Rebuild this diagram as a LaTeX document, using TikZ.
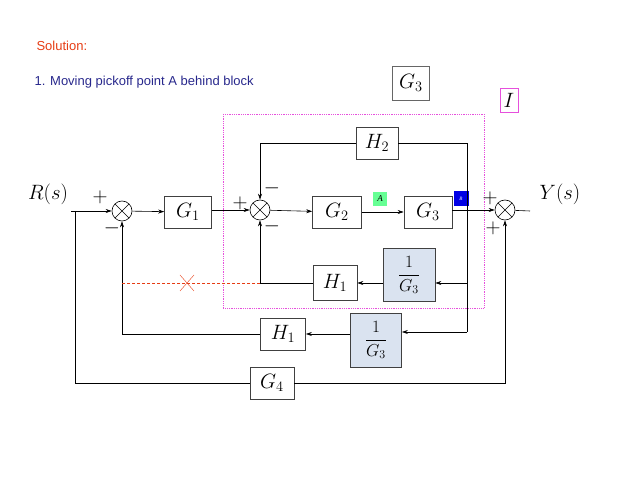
\documentclass[tikz,border=0pt]{standalone}
\usepackage{fontspec}
\usepackage{amsmath}
\setmainfont{Liberation Serif}
\newfontfamily\sans{Liberation Sans}
\usetikzlibrary{arrows.meta}
\definecolor{dashpink}{RGB}{230,80,220}
\definecolor{solred}{RGB}{230,60,20}
\definecolor{navy}{RGB}{40,40,140}
\definecolor{boxblue}{RGB}{218,227,240}
\newcommand{\blkfont}{\fontsize{22}{24}\selectfont}
\begin{document}
\begin{tikzpicture}[x=1pt,y=-1pt,
  blk/.style={draw=black!75,semithick,minimum height=32pt,inner sep=1pt,font=\blkfont},
  sum/.style={draw,semithick,circle,minimum size=20pt,inner sep=0pt,path picture={
    \draw (path picture bounding box.north west)--(path picture bounding box.south east)
          (path picture bounding box.north east)--(path picture bounding box.south west);}},
  sig/.style={->,>={Stealth[length=6pt,width=4pt]},semithick},
  ln/.style={semithick},
  sg/.style={font=\fontsize{20}{22}\selectfont}]
\useasboundingbox (0,0) rectangle (638,478);
% texts
\node[anchor=west,font=\sans\fontsize{13}{15}\selectfont,text=solred] (sol) at (33,46) {Solution:};
\node[anchor=west,font=\sans\fontsize{13}{15}\selectfont,text=navy] (mov) at (31,82) {1. Moving pickoff point A behind block};
\node[draw=black!60,minimum width=37pt,minimum height=34pt,font=\blkfont] (gt) at (411,83) {$G_3$};
\node[draw=dashpink,minimum width=18pt,minimum height=24pt,inner sep=0pt,font=\blkfont] (ii) at (509,100) {$I$};
\draw[dashpink,densely dotted,thick] (223,114) rectangle (484,308);
% main path
\node[font=\blkfont] (R) at (48,194) {$R(s)$};
\node[font=\blkfont] (Y) at (560,194) {$Y(s)$};
\node[sum] (s1) at (122,211) {};
\node[sum] (s2) at (260,210) {};
\node[sum] (s3) at (505,210) {};
\node[blk,minimum width=47pt] (g1) at (188,212) {$G_1$};
\node[blk,minimum width=49pt] (g2) at (337,212) {$G_2$};
\node[blk,minimum width=48pt] (g3) at (428,212) {$G_3$};
\node[blk,minimum width=42pt] (h2) at (377,143) {$H_2$};
\node[blk,minimum width=44pt,minimum height=35pt] (h1a) at (335,283) {$H_1$};
\node[blk,fill=boxblue,minimum width=52pt,minimum height=53pt,font=\fontsize{17}{19}\selectfont] (ga) at (409,275) {$\dfrac{1}{G_3}$};
\node[blk,fill=boxblue,minimum width=51pt,minimum height=54pt,font=\fontsize{17}{19}\selectfont] (gb) at (376,340) {$\dfrac{1}{G_3}$};
\node[blk,minimum width=45pt] (h1b) at (283,334) {$H_1$};
\node[blk,minimum width=44pt] (g4) at (272,383) {$G_4$};
\node[fill=green!70!cyan!60,minimum size=14pt,inner sep=0pt,font=\small\itshape] (A) at (380,199) {A};
\node[fill=blue!90!black,minimum size=15pt,inner sep=0pt,font=\tiny\itshape,text=white] (B) at (461,199) {B};
\coordinate (rt) at (75,211);
\coordinate (p) at (467,212);
\coordinate (out) at (530,211);
\draw[ln] (R.east |- rt) -- (rt);
\draw[sig] (rt) -- (s1);
\draw[sig] (s1) -- (g1);
\draw[sig] (g1.east |- s2) -- (s2);
\draw[sig] (s2) -- (g2);
\draw[sig] (g2.east) -- (g3.west);
\draw[sig] (g3.east |- s3) -- (s3);
\draw[ln] (s3) -- (out);
% feedbacks
\draw[ln] (p) |- (h2.east);
\draw[sig] (h2.west) -| (s2.north);
\draw[ln] (p) -- (467,332);
\draw[sig] (467,283) -- (ga.east |- 0,283);
\draw[sig] (ga.west |- 0,283) -- (h1a.east);
\draw[sig] (h1a.west) -| (s2.south);
\draw[sig] (467,332) -- (gb.east |- 0,332);
\draw[sig] (gb.west |- 0,334) -- (h1b.east);
\draw[sig] (h1b.west) -| (s1.south);
\draw[ln] (rt) |- (g4.west);
\draw[sig] (g4.east) -| (s3.south);
\draw[solred,densely dashed,thin] (260,283) -- (122,283);
\draw[solred] (180,275) -- (194,291) (194,275) -- (180,291);
% signs
\node[sg] (pa) at (100,197) {$+$};
\node[sg] (pb) at (112,228) {$-$};
\node[sg] (pc) at (240,203) {$+$};
\node[sg] (pd) at (272,188) {$-$};
\node[sg] (pe) at (272,226) {$-$};
\node[sg] (pf) at (490,198) {$+$};
\node[sg] (pg) at (493,228) {$+$};
\end{tikzpicture}
\end{document}
